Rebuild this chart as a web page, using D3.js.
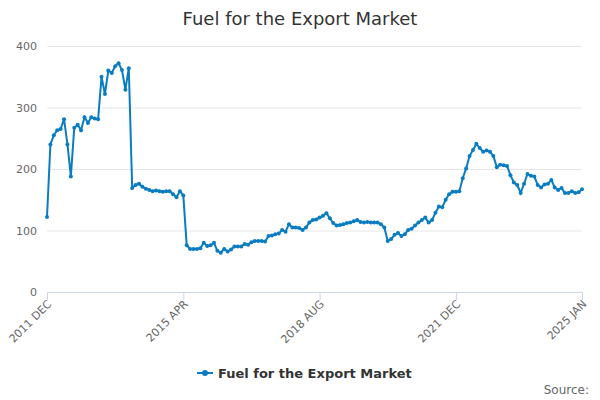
<!DOCTYPE html>
<html><head><meta charset="utf-8">
<script src="https://cdn.jsdelivr.net/npm/d3@7"></script>
<style>body{margin:0;font-family:"DejaVu Sans",sans-serif;background:#fff}</style>
</head><body><svg width="600" height="400"></svg>
<script>
const title = 'Fuel for the Export Market';
const seriesName = 'Fuel for the Export Market';
const values = [
 122,240,255,263,265,281,240,188,267,272,263,284,275,284,282,281,350,322,360,356,
 367,372,361,329,364,169,174,176,171,168,166,164,165,164,163,164,164,159,154,164,
 157,76,70,70,70,71,80,75,76,80,67,64,70,66,69,74,74,74,78,77,
 81,83,83,83,82,91,92,94,95,101,98,110,105,105,104,101,105,113,117,118,
 121,124,128,120,112,108,109,110,112,113,115,117,114,113,114,113,113,113,110,105,
 83,86,93,96,91,94,101,103,108,113,117,121,113,117,129,139,138,150,159,163,
 163,164,185,201,221,231,241,234,228,230,228,221,203,207,206,205,190,178,174,161,
 176,192,189,188,174,170,175,176,182,170,166,169,161,161,164,161,162,167
];
const yTicks = [0, 100, 200, 300, 400];
const xTickIdx = [0, 40, 80, 120, 157];
const xTickLabels = ['2011 DEC', '2015 APR', '2018 AUG', '2021 DEC', '2025 JAN'];
const color = '#0a7cc1';

const svg = d3.select('svg');
const m = {left: 47, right: 582, top: 46, bottom: 292};

const x = d3.scaleLinear().domain([0, values.length - 1]).range([m.left, m.right]);
const y = d3.scaleLinear().domain([0, 400]).range([m.bottom, m.top]);

svg.append('text').attr('x', 300).attr('y', 25).attr('text-anchor', 'middle')
   .attr('font-size', 18).attr('fill', '#333').text(title);

const ya = svg.append('g').attr('transform', `translate(${m.left},0)`)
   .call(d3.axisLeft(y).tickValues(yTicks).tickSize(-(m.right - m.left)).tickPadding(10));
ya.select('.domain').remove();
ya.selectAll('line').attr('stroke', '#e6e6e6');
ya.selectAll('text').attr('fill', '#666').attr('font-size', 11).attr('font-family', 'DejaVu Sans');

const xa = svg.append('g').attr('transform', `translate(0,${m.bottom})`)
   .call(d3.axisBottom(x).tickValues(xTickIdx).tickFormat((d, i) => xTickLabels[i]).tickSize(8).tickSizeOuter(0));
xa.select('.domain').attr('stroke', '#ccd6eb');
xa.selectAll('line').attr('stroke', '#ccd6eb');
xa.selectAll('text').attr('fill', '#666').attr('font-size', 11).attr('font-family', 'DejaVu Sans')
   .attr('text-anchor', 'end').attr('x', 0).attr('y', 0).attr('dy', '0.35em')
   .attr('transform', 'translate(2,10) rotate(-45)');

svg.append('path').datum(values)
   .attr('fill', 'none').attr('stroke', color).attr('stroke-width', 2)
   .attr('d', d3.line().x((d, i) => x(i)).y(d => y(d)));
svg.append('g').selectAll('circle').data(values).join('circle')
   .attr('cx', (d, i) => x(i)).attr('cy', d => y(d)).attr('r', 2).attr('fill', color);

const lg = svg.append('g').attr('transform', 'translate(197,373)');
lg.append('line').attr('x1', 0).attr('x2', 16).attr('stroke', color).attr('stroke-width', 2);
lg.append('circle').attr('cx', 8).attr('r', 3).attr('fill', color);
lg.append('text').attr('x', 21).attr('y', 5).attr('font-size', 13).attr('font-weight', 'bold')
   .attr('fill', '#333').text(seriesName);

svg.append('text').attr('x', 589).attr('y', 394).attr('text-anchor', 'end')
   .attr('font-size', 12).attr('fill', '#666').text('Source:');
</script></body></html>
